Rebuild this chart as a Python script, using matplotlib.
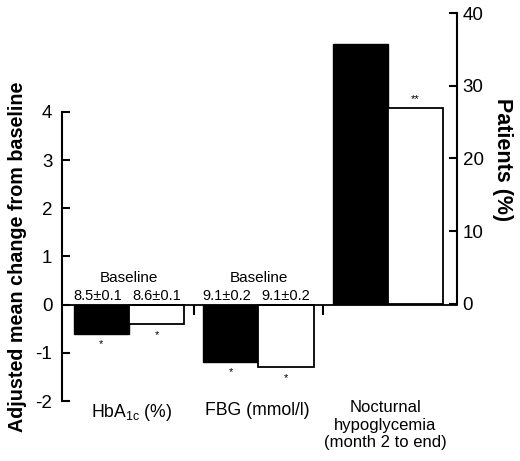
import matplotlib
matplotlib.use("Agg")
import matplotlib.pyplot as plt
import matplotlib.transforms as mtransforms

plt.rcParams['font.family'] = ['Liberation Sans', 'DejaVu Sans']

# ---- data ----
categories = ["HbA$_{\\mathregular{1c}}$ (%)", "FBG (mmol/l)", "Nocturnal\nhypoglycemia\n(month 2 to end)"]
change_black = [-0.6, -1.18]       # adjusted mean change, group 1 (HbA1c, FBG)
change_white = [-0.41, -1.3]       # adjusted mean change, group 2
hypo_black = [35.8]                # nocturnal hypoglycemia, % patients
hypo_white = [26.9]
baseline_black = ["8.5\u00b10.1", "9.1\u00b10.2"]
baseline_white = ["8.6\u00b10.1", "9.1\u00b10.2"]
sig_black = ["*", "*"]
sig_white = ["*", "*"]
sig_hypo_white = ["**"]
left_ticks = [-2, -1, 0, 1, 2, 3, 4]
right_ticks = [0, 10, 20, 30, 40]

# ---- layout ----
W = 0.425
OFF = W / 2

fig = plt.figure(figsize=(5.2, 4.61), dpi=100)
ax = fig.add_axes([62/520, 1-401/461, (457-62)/520, (401-13)/461])
ax2 = ax.twinx()

ax.set_xlim(-0.517, 2.533)
ax.set_ylim(-2, 6.055)
ax2.set_ylim(-13.38, 40.0)

# bars (left axis)
xs = [0, 1]
ax.bar([x - OFF for x in xs], change_black, width=W, color='black', edgecolor='black', linewidth=1.0, zorder=3)
ax.bar([x + OFF for x in xs], change_white, width=W, color='white', edgecolor='black', linewidth=1.3, zorder=3)
# bars (right axis)
ax2.bar([2 - OFF], hypo_black, width=W, color='black', edgecolor='black', linewidth=1.0, zorder=3)
ax2.bar([2 + OFF], hypo_white, width=W, color='white', edgecolor='black', linewidth=1.3, zorder=3)

# spines
for s in ['top', 'right']:
    ax.spines[s].set_visible(False)
for s in ['top', 'left', 'bottom']:
    ax2.spines[s].set_visible(False)
ax.spines['left'].set_bounds(-2, 4)
ax.spines['left'].set_linewidth(1.5)
ax2.spines['right'].set_bounds(0, 40)
ax2.spines['right'].set_linewidth(1.5)
ax.spines['bottom'].set_position(('data', 0))
ax.spines['bottom'].set_linewidth(1.3)
ax.spines['bottom'].set_zorder(4)

ax.set_xticks([0.5, 1.5])
ax.set_xticklabels([])
ax.tick_params(axis='x', direction='out', length=7, width=1.5)

ax.set_yticks(left_ticks)
ax.set_yticklabels([str(t) for t in left_ticks], fontsize=13.5)
ax.tick_params(axis='y', direction='in', length=6, width=1.5, pad=7)
ax2.set_yticks(right_ticks)
ax2.set_yticklabels([str(t) for t in right_ticks], fontsize=13.5)
ax2.tick_params(axis='y', direction='in', length=6, width=1.5, pad=4)

# axis labels
fig.text(18/520, 1-257/461, "Adjusted mean change from baseline", rotation=90,
         ha='center', va='center', fontsize=14.2, fontweight='bold')
fig.text(502/520, 1-160/461, "Patients (%)", rotation=-90,
         ha='center', va='center', fontsize=15.5, fontweight='bold')

# baseline annotations
for i, x in enumerate(xs):
    ax.text(x, 0, "Baseline", ha='center', va='baseline', fontsize=11,
            transform=mtransforms.offset_copy(ax.transData, fig=fig, y=23, units='dots'))
    ax.text(x - OFF - 0.03, 0, baseline_black[i], ha='center', va='baseline', fontsize=10.5,
            transform=mtransforms.offset_copy(ax.transData, fig=fig, y=5, units='dots'))
    ax.text(x + OFF, 0, baseline_white[i], ha='center', va='baseline', fontsize=10.5,
            transform=mtransforms.offset_copy(ax.transData, fig=fig, y=5, units='dots'))

# significance marks
for i, x in enumerate(xs):
    ax.annotate(sig_black[i], (x - OFF, change_black[i]), xytext=(0, -4),
                textcoords='offset points', ha='center', va='top', fontsize=8)
    ax.annotate(sig_white[i], (x + OFF, change_white[i]), xytext=(0, -4),
                textcoords='offset points', ha='center', va='top', fontsize=8)
ax2.annotate(sig_hypo_white[0], (2 + OFF, hypo_white[0]), xytext=(0, 3),
             textcoords='offset points', ha='center', va='bottom', fontsize=8)

# category labels
trans = mtransforms.blended_transform_factory(ax.transData, fig.transFigure)
ax.text(0.02, 1-402/461, categories[0], transform=trans, ha='center', va='top', fontsize=12.7)
ax.text(0.99, 1-402/461, categories[1], transform=trans, ha='center', va='top', fontsize=12.7)
ax.text(1.98, 1-400/461, categories[2], transform=trans, ha='center', va='top',
        fontsize=12, linespacing=1.22)

fig.savefig("out.png", dpi=100)
